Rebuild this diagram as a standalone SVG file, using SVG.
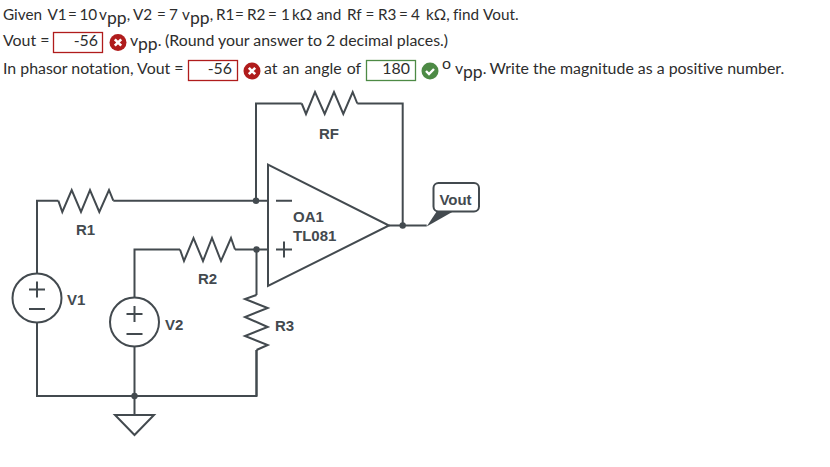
<svg xmlns="http://www.w3.org/2000/svg" width="830" height="467" viewBox="0 0 830 467">
<style>
.t{font-family:"Lato","Liberation Sans",sans-serif;font-size:15.900px;fill:#2d2d2d;font-variant-ligatures:none}
.t1{font-size:15.300px}
.s{font-size:17.500px}
.in{font-family:"Lato","Liberation Sans",sans-serif;font-size:15.900px;fill:#2d2d2d;text-anchor:end}
.w{fill:none;stroke:#434a4f;stroke-width:2;stroke-linejoin:miter}
.f{fill:none;stroke:#434a4f;stroke-width:2}
.l{font-family:"Liberation Sans",Arial,sans-serif;font-size:15px;font-weight:bold;fill:#434a4f}
.d{fill:#434a4f}
.bad{fill:#fff;stroke:#b01c1c;stroke-width:1.3}
.ok{fill:#fff;stroke:#4d8a45;stroke-width:1.3}
.xm{stroke:#fff;stroke-width:2.6;fill:none}
</style>
<rect width="830" height="467" fill="#fff"/>
<g id="question">
<text class="t t1" x="3" y="20">Given<tspan x="47.500">V1</tspan><tspan x="68">=</tspan><tspan x="79.500">10</tspan><tspan x="99">v</tspan><tspan class="s" x="107" dy="4">pp</tspan><tspan dy="-4">,</tspan><tspan x="133">V2</tspan><tspan x="157">=</tspan><tspan x="169">7</tspan><tspan x="182">v</tspan><tspan class="s" x="190" dy="4">pp</tspan><tspan dy="-4">,</tspan><tspan x="216">R1</tspan><tspan x="235">=</tspan><tspan x="247">R2</tspan><tspan x="268">=</tspan><tspan x="281">1</tspan><tspan x="292">kΩ</tspan><tspan x="316.500">and</tspan><tspan x="347">Rf</tspan><tspan x="365.500">=</tspan><tspan x="378">R3</tspan><tspan x="399">=</tspan><tspan x="411">4</tspan><tspan x="426">kΩ,</tspan><tspan x="453">find</tspan><tspan x="483">Vout.</tspan></text>
<text class="t" x="3" y="46">Vout =</text>
<rect class="bad" x="53.500" y="32.500" width="49" height="20"/>
<text class="in" x="98" y="46">-56</text>
<g id="mark1"><circle cx="118" cy="42.500" r="8.500" fill="#b01c1c"/><path class="xm" d="M114.800 39.300l6.400 6.400M121.200 39.300l-6.400 6.400"/></g>
<text class="t" x="130" y="46">v<tspan class="s" x="138" dy="4">pp</tspan><tspan dy="-4">.</tspan><tspan x="165">(Round your answer to 2 decimal places.)</tspan></text>
<text class="t" x="3" y="74">In phasor notation, Vout =</text>
<rect class="bad" x="188.500" y="60.500" width="49" height="20"/>
<text class="in" x="232" y="74">-56</text>
<g id="mark2"><circle cx="252" cy="71" r="8.500" fill="#b01c1c"/><path class="xm" d="M248.800 67.800l6.400 6.400M255.200 67.800l-6.400 6.400"/></g>
<text class="t" x="264" y="74" word-spacing="1">at an angle of</text>
<rect class="ok" x="366.500" y="60.500" width="49" height="20"/>
<text class="in" x="410" y="74">180</text>
<g id="mark3"><circle cx="430" cy="71" r="8.500" fill="#4d8a45"/><path d="M426 71l3 3 5-5" fill="none" stroke="#fff" stroke-width="2.400"/></g>
<text class="t" x="442" y="69">o</text>
<text class="t" x="455" y="74">v<tspan class="s" x="463" dy="4">pp</tspan><tspan dy="-4">.</tspan><tspan x="489.500">Write the magnitude as a positive number.</tspan></text>
</g>
<g id="connectors">
<path class="w" d="M113.300 200.700H268M37 273V200.700H58.300"/>
<path class="w" d="M134.500 297V249.500H180M235 249.500H268"/>
<path class="w" d="M256.500 249.500V295M256.500 350V396"/>
<path class="w" d="M37 323V396H256.500V350M134.500 347V415"/>
<path class="w" d="M256 200.700V103.500H301.700M357.300 103.500H402.700V225.500"/>
<path class="w" d="M389 225.500H426.700"/>
<circle class="d" cx="256" cy="200.700" r="3.200"/>
<circle class="d" cx="256.500" cy="249.500" r="3.200"/>
<circle class="d" cx="134.500" cy="396" r="3.200"/>
<circle class="d" cx="402.700" cy="225.500" r="3.200"/>
</g>
<g id="R1"><path class="w" d="M58.300 200.700L62.300 212L71.700 190L81 212L90 190L99.300 212L109 190L113.300 200.700"/><text class="l" x="76" y="235">R1</text></g>
<g id="R2"><path class="w" d="M180 249.500L184 261L193.500 238L203 261L212 238L221 261L231 238L235 249.500"/><text class="l" x="198" y="284">R2</text></g>
<g id="R3"><path class="w" d="M256.500 295L245 299L267.700 308L245 317L267.700 327L245 336L267.700 345L256.500 350"/><text class="l" x="275" y="331">R3</text></g>
<g id="RF"><path class="w" d="M301.700 103.500L306 114L315 92L324.700 114L334 92L343.300 114L352.700 92L357.300 103.500"/><text class="l" x="319" y="139">RF</text></g>
<g id="V1"><circle class="f" cx="37" cy="298" r="24.500"/><path class="f" d="M29 289.500H45M37 281.500V297.500M29 309H45"/><text class="l" x="67" y="305">V1</text></g>
<g id="V2"><circle class="f" cx="134.500" cy="322" r="24.500"/><path class="f" d="M126.500 314H142.500M134.500 306V322M126.500 334H142.500"/><text class="l" x="165" y="330">V2</text></g>
<g id="OA1"><path class="w" d="M268 164.500V286L389 225.500Z" fill="#fff"/><path class="f" d="M276 200.700H292M276 249.500H292M284 241.500V257.500"/><text class="l" x="293" y="222">OA1</text><text class="l" x="293" y="241">TL081</text></g>
<g id="GND"><path class="w" d="M115 415H154L134.500 435Z"/></g>
<g id="Vout"><path class="d" d="M426.700 226.500L437 211H454Z"/><rect x="433.500" y="183" width="45.500" height="28.500" rx="5" fill="#fff" stroke="#434a4f" stroke-width="2"/><text class="l" x="455.500" y="205" text-anchor="middle" font-size="16">Vout</text></g>
</svg>
